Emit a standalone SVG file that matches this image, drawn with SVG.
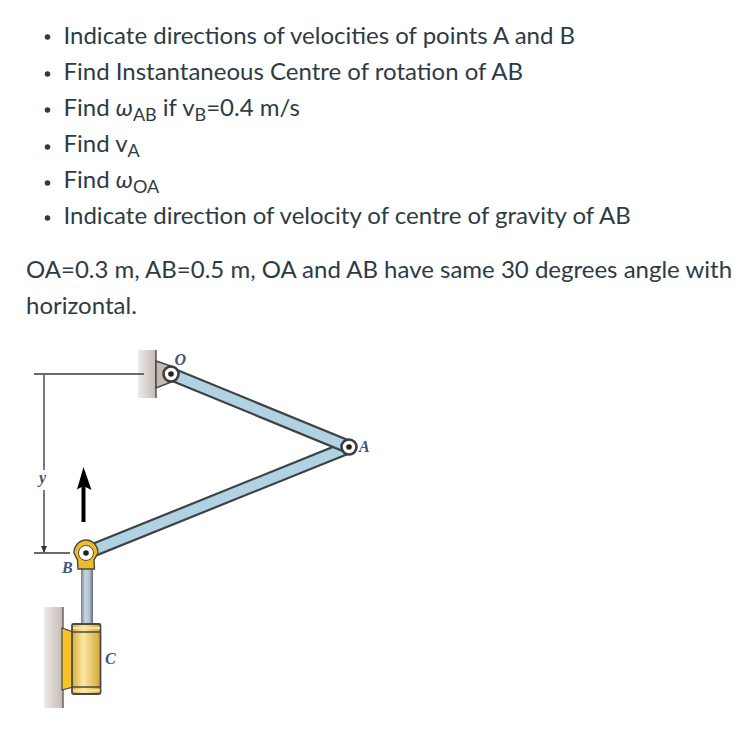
<svg xmlns="http://www.w3.org/2000/svg" width="744" height="733" viewBox="0 0 744 733">
<defs>
<linearGradient id="wall" x1="0" x2="1" y1="0" y2="0"><stop offset="0" stop-color="#efebe8"/><stop offset="1" stop-color="#c4bab4"/></linearGradient>
<linearGradient id="rod" x1="0" x2="1" y1="0" y2="0"><stop offset="0" stop-color="#6f7f8c"/><stop offset=".35" stop-color="#c9d6e0"/><stop offset=".7" stop-color="#aebfcd"/><stop offset="1" stop-color="#5f6b75"/></linearGradient>
<linearGradient id="cyl" x1="0" x2="1" y1="0" y2="0"><stop offset="0" stop-color="#d9ad3a"/><stop offset=".4" stop-color="#fbe7a3"/><stop offset="1" stop-color="#d3a636"/></linearGradient>
<filter id="soft" x="-5%" y="-5%" width="110%" height="110%"><feGaussianBlur stdDeviation="0.5"/></filter>
</defs>
<style>
text{font-family:"Lato","Liberation Sans",sans-serif;font-size:24px;fill:#2d3b45}
.g{font-family:"Lato","DejaVu Sans",sans-serif;font-style:italic}
.lb{font-family:"Liberation Serif",serif;font-style:italic;font-weight:bold;font-size:16px;fill:#3f557c}
.bul{fill:#2d3b45}
.dim{stroke:#6a6a6e;stroke-width:1.800;fill:none}
.link{fill:#b0d2e3;stroke:#3e4346;stroke-width:2.200}
.pinw{fill:#fff;stroke:#3a3d40;stroke-width:2.600}
.pin{fill:#222}
</style>
<g id="text">
<circle class="bul" cx="47.500" cy="37" r="2.800"/>
<circle class="bul" cx="47.500" cy="74" r="2.800"/>
<circle class="bul" cx="47.500" cy="110" r="2.800"/>
<circle class="bul" cx="47.500" cy="147" r="2.800"/>
<circle class="bul" cx="47.500" cy="183" r="2.800"/>
<circle class="bul" cx="47.500" cy="218" r="2.800"/>
<text x="63.500" y="44">Indicate directions of velocities of points A and B</text>
<text x="63.500" y="80">Find Instantaneous Centre of rotation of AB</text>
<text x="63.500" y="116">Find <tspan class="g">ω</tspan><tspan font-size="18" dy="5">AB</tspan><tspan dy="-5"> if v</tspan><tspan font-size="18" dy="5">B</tspan><tspan dy="-5">=0.4 m/s</tspan></text>
<text x="63.500" y="152">Find v<tspan font-size="18" dy="5">A</tspan></text>
<text x="63.500" y="188">Find <tspan class="g">ω</tspan><tspan font-size="18" dy="5">OA</tspan></text>
<text x="63.500" y="224">Indicate direction of velocity of centre of gravity of AB</text>
<text x="26" y="278">OA=0.3 m, AB=0.5 m, OA and AB have same 30 degrees angle with</text>
<text x="26" y="314">horizontal.</text>
</g>
<g id="wall-top" filter="url(#soft)"><rect x="138" y="350" width="18" height="48" fill="url(#wall)"/><path d="M156 350V398" stroke="#555" stroke-width="1.500"/>
<path d="M156 361L174 367V381L156 388z" fill="#c4b9ae" stroke="#444" stroke-width="1.400"/></g>
<g id="wall-bottom" filter="url(#soft)"><rect x="44" y="607" width="19" height="101" fill="url(#wall)"/><path d="M63 607V708" stroke="#666" stroke-width="1.500"/>
<path d="M62 628L73 632V687L62 690z" fill="#f6c42c" stroke="#444" stroke-width="1.200"/></g>
<g id="connectors" filter="url(#soft)">
<path class="dim" d="M34 374H144M44 374V470M44 490V552M34 553H70"/>
<path d="M44 553l-3-7h6z" fill="#333"/>
<path d="M83.500 522V485" stroke="#000" stroke-width="4" fill="none"/>
<path d="M83.500 467L77 489.500L83.500 486L91.500 490z" fill="#000"/>
</g>
<g id="rod" filter="url(#soft)"><rect x="81" y="566" width="12" height="59" fill="url(#rod)"/></g>
<g id="cylinder-C" filter="url(#soft)">
<rect x="72" y="624" width="28.500" height="70" rx="1.500" fill="url(#cyl)" stroke="#4a4a42" stroke-width="1.800"/>
<path d="M72 632H100.500M72 687H100.500" stroke="#4a4a42" stroke-width="1.600"/>
<path d="M73 628H100M73 690.500H100" stroke="#f8e4a0" stroke-width="2"/>
</g>
<g id="label-C"><text class="lb" x="105" y="664">C</text></g>
<g id="link-AB" filter="url(#soft)"><path class="link" d="M349 440.500L349 453.500L86 559.500L86 546.500z"/></g>
<g id="link-OA" filter="url(#soft)"><path class="link" d="M171 367.500L349 440.500L349 453.500L171 380.500z"/></g>
<g id="pin-B" filter="url(#soft)">
<path d="M74 553A12 13 0 0 1 98 553L94 560L94.500 569H78L77.500 560z" fill="#eebb2c" stroke="#4a4a3a" stroke-width="1.400"/>
<circle cx="86" cy="553" r="7.500" fill="#fff" stroke="#55503a" stroke-width="1"/><circle class="pin" cx="86" cy="553" r="2.800"/>
</g>
<g id="label-B"><text class="lb" x="62" y="573">B</text></g>
<g id="pin-O" filter="url(#soft)"><circle class="pinw" cx="171" cy="374" r="7.500"/><circle class="pin" cx="171" cy="374" r="2.800"/></g>
<g id="label-O"><text class="lb" x="174.500" y="364.500" font-size="16.500">O</text></g>
<g id="pin-A" filter="url(#soft)"><circle class="pinw" cx="349" cy="447" r="7.500"/><circle class="pin" cx="349" cy="447" r="2.800"/></g>
<g id="label-A"><text class="lb" x="359" y="452">A</text></g>
<g id="label-y"><text class="lb" x="39" y="483">y</text></g>
</svg>
